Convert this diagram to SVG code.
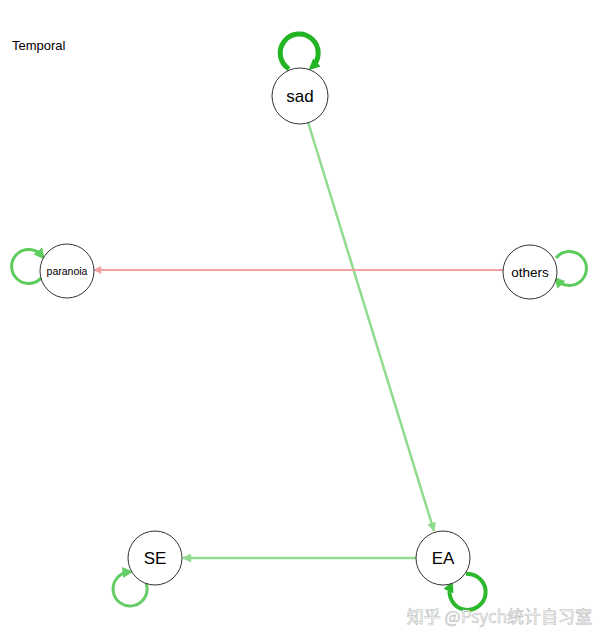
<svg xmlns="http://www.w3.org/2000/svg" width="604" height="642" viewBox="0 0 604 642">
<style>
.n{fill:#fff;stroke:#333;stroke-width:1}
.t{font-family:"Liberation Sans",Arial,sans-serif;text-anchor:middle;fill:#000}
.e{fill:none}
</style>
<defs>
<marker id="ag" viewBox="0 0 10 10" refX="9" refY="5" markerWidth="10" markerHeight="9" markerUnits="userSpaceOnUse" orient="auto"><path d="M0,0L10,5L0,10z" fill="#8fdc8f"/></marker>
<marker id="ap" viewBox="0 0 10 10" refX="9" refY="5" markerWidth="9" markerHeight="8" markerUnits="userSpaceOnUse" orient="auto"><path d="M0,0L10,5L0,10z" fill="#f4a0a0"/></marker>
<marker id="al" viewBox="0 0 10 10" refX="6" refY="5" markerWidth="11" markerHeight="11" markerUnits="userSpaceOnUse" orient="auto"><path d="M0,0L10,5L0,10z" fill="context-stroke"/></marker>
</defs>
<rect width="604" height="642" fill="#fff"/>
<text x="12" y="50" font-family="Liberation Sans,Arial,sans-serif" font-size="13" fill="#000">Temporal</text>
<g id="connectors">
<line class="e" x1="308" y1="122" x2="434" y2="531" stroke="#8fdc8f" stroke-width="2.5" marker-end="url(#ag)"/>
<line class="e" x1="503" y1="270" x2="94" y2="270" stroke="#f4a0a0" stroke-width="2" marker-end="url(#ap)"/>
<line class="e" x1="416" y1="558" x2="183" y2="558" stroke="#8fdc8f" stroke-width="2.5" marker-end="url(#ag)"/>
<path class="e" d="M289,69 A19,19 0 1 1 312,67" stroke="#22b422" stroke-width="5" marker-end="url(#al)"/>
<path class="e" d="M42,277 A17,17 0 1 1 42,256" stroke="#5ccc5c" stroke-width="3" marker-end="url(#al)"/>
<path class="e" d="M556,258 A17,17 0 1 1 557,280" stroke="#5ccc5c" stroke-width="3" marker-end="url(#al)"/>
<path class="e" d="M146,583 A17,17 0 1 1 129,572" stroke="#66cc66" stroke-width="3" marker-end="url(#al)"/>
<path class="e" d="M466,574 A18,18 0 1 1 451,585" stroke="#2db82d" stroke-width="4" marker-end="url(#al)"/>
</g>
<g id="sad"><circle class="n" cx="300" cy="96" r="28"/><text class="t" x="300" y="102" font-size="17">sad</text></g>
<g id="paranoia"><circle class="n" cx="67" cy="271" r="27"/><text class="t" x="67" y="275" font-size="10.5">paranoia</text></g>
<g id="others"><circle class="n" cx="530" cy="272" r="27"/><text class="t" x="530" y="277" font-size="13.5">others</text></g>
<g id="SE"><circle class="n" cx="155" cy="558" r="27"/><text class="t" x="155" y="564" font-size="17">SE</text></g>
<g id="EA"><circle class="n" cx="443" cy="558" r="27"/><text class="t" x="443" y="564" font-size="17">EA</text></g>
<text x="592" y="623" text-anchor="end" font-family="'Noto Sans CJK SC',sans-serif" font-size="17" fill="#fff" stroke="#bbb" stroke-width="0.6">知乎 @Psych统计自习室</text>
</svg>
